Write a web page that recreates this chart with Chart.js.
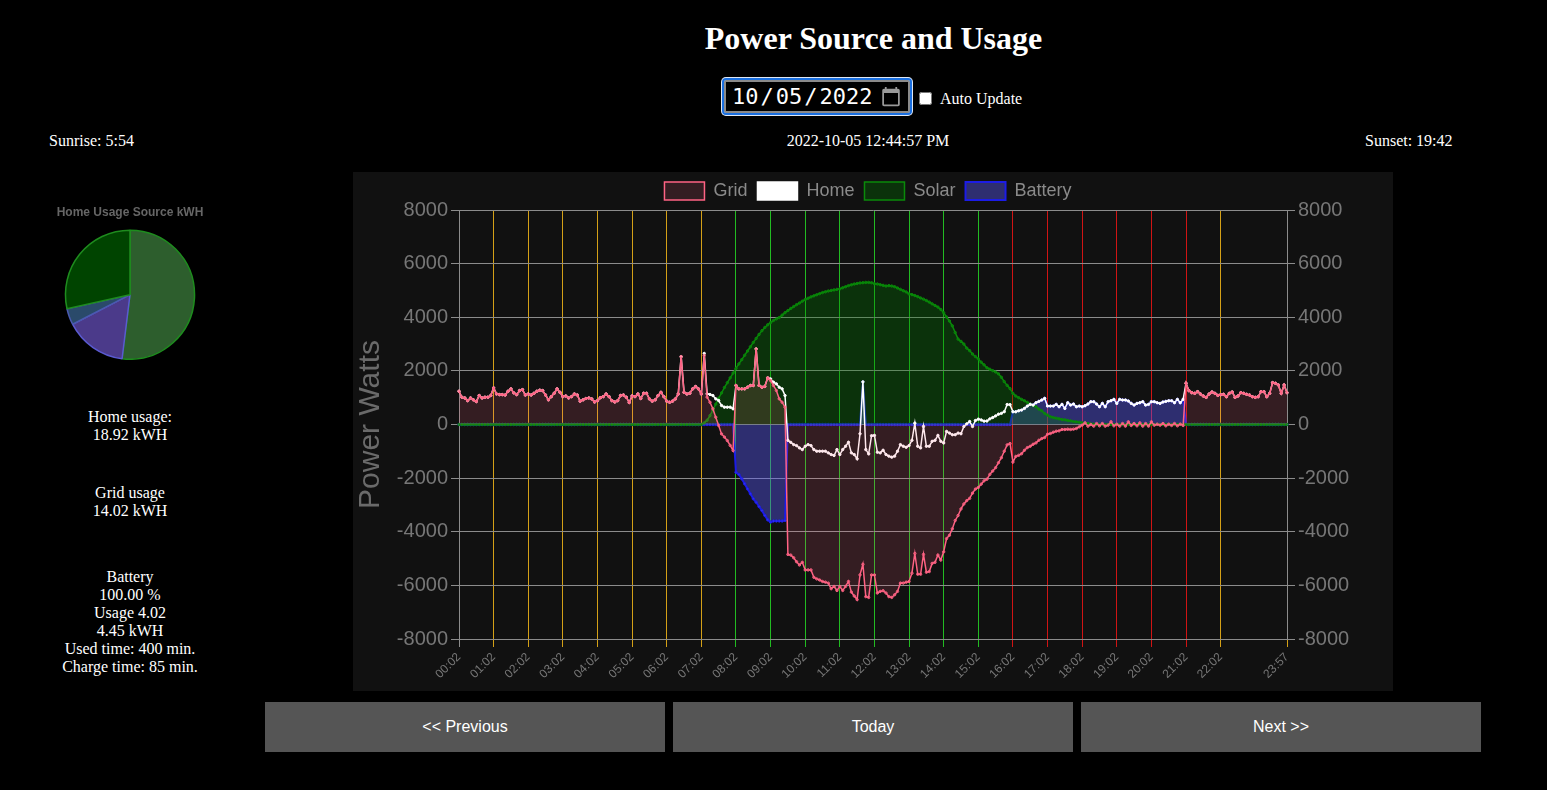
<!DOCTYPE html>
<html>
<head>
<meta charset="utf-8">
<title>Power Source and Usage</title>
<script src="https://cdn.jsdelivr.net/npm/chart.js@4.4.0/dist/chart.umd.min.js"></script>
<style>
  body {
    margin: 0;
    width: 1547px;
    height: 790px;
    position: relative;
    overflow: hidden;
    background: #000;
    color: #fff;
    font-family: "Liberation Serif", "Times New Roman", serif;
    font-size: 16px;
  }
  h1 {
    position: absolute;
    left: 200px;
    width: 1347px;
    top: 20px;
    margin: 0;
    text-align: center;
    font-size: 32px;
    line-height: 37px;
  }
  #day {
    position: absolute;
    left: 724px;
    top: 80px;
    width: 186px;
    height: 33px;
    box-sizing: border-box;
    margin: 0;
    padding: 0 4px 0 5px;
    background: #000;
    color: #fff;
    color-scheme: dark;
    border: 2px solid #8a8a8a;
    border-radius: 2px;
    outline: 2px solid #1a6fe0;
    box-shadow: 0 0 0 3px #dfe8f5;
    font-family: "DejaVu Sans Mono", monospace;
    font-size: 22px;
  }
  #day::-webkit-datetime-edit-text { padding: 0 1px; }
  #day::-webkit-calendar-picker-indicator { opacity: 0.6; }
  #auto {
    position: absolute;
    left: 919px;
    top: 92px;
    width: 13px;
    height: 13px;
    margin: 0;
  }
  .line { position: absolute; line-height: 18px; white-space: nowrap; }
  .side { position: absolute; left: 30px; width: 200px; text-align: center; line-height: 18px; }
  #chartBox {
    position: absolute;
    left: 353px;
    top: 172px;
    width: 1040px;
    height: 519px;
    background: #111;
  }
  #pieChart { position: absolute; left: 30px; top: 200px; }
  .btn {
    position: absolute;
    top: 702px;
    width: 400px;
    height: 50px;
    border: none;
    background: #555;
    color: #fff;
    font-family: "Liberation Sans", Arial, sans-serif;
    font-size: 16px;
  }
</style>
</head>
<body>
<h1>Power Source and Usage</h1>
<input id="day" type="date" value="2022-10-05">
<input id="auto" type="checkbox">
<div class="line" style="left:940px; top:90px;">Auto Update</div>

<div class="line" style="left:49px; top:132px;">Sunrise: 5:54</div>
<div class="line" style="left:668px; width:400px; text-align:center; top:132px;">2022-10-05 12:44:57 PM</div>
<div class="line" style="left:1365px; top:132px;">Sunset: 19:42</div>

<canvas id="pieChart" width="200" height="160"></canvas>

<div class="side" style="top:408px;">Home usage:<br>18.92 kWH</div>
<div class="side" style="top:484px;">Grid usage<br>14.02 kWH</div>
<div class="side" style="top:568px;">Battery<br>100.00 %<br>Usage 4.02<br>4.45 kWH<br>Used time: 400 min.<br>Charge time: 85 min.</div>

<div id="chartBox"><canvas id="powerChart"></canvas></div>

<button class="btn" style="left:265px;">&lt;&lt; Previous</button>
<button class="btn" style="left:673px;">Today</button>
<button class="btn" style="left:1081px;">Next &gt;&gt;</button>

<script>
// readings every 5 minutes, 00:02 .. 23:57 (12 values per row = one hour)
const gridWatts = [
  1240, 1017, 990, 890, 990, 920, 855, 1080, 990, 1017, 1017, 1080,
  1364, 1140, 1115, 1115, 1100, 1240, 1330, 1180, 1115, 1265, 1300, 1100,
  1140, 1100, 1165, 1240, 1280, 1265, 1100, 920, 1040, 1165, 1330, 1200,
  1040, 1065, 990, 1040, 1140, 1100, 870, 920, 970, 990, 955, 840,
  890, 1000, 1040, 1140, 1040, 890, 840, 890, 1080, 1100, 1017, 820,
  1065, 1040, 1140, 970, 1165, 1165, 955, 870, 920, 1080, 1200, 1040,
  870, 830, 870, 955, 1140, 2530, 1200, 1140, 1165, 1330, 1415, 1330,
  1140, 2573, 1020, 830, 585, 273, -37, -350, -470, -600, -780, -970,
  1455, 1330, 1330, 1330, 1390, 1455, 1455, 2820, 1455, 1390, 1420, 1740,
  1640, 1455, 1270, 957, 830, 646, -4846, -4870, -4970, -5117, -5240, -5140,
  -5424, -5424, -5424, -5700, -5760, -5800, -5855, -5880, -5916, -6125, -6040, -6190,
  -6040, -6190, -6040, -5855, -6250, -6396, -6530, -5610, -5215, -6420, -6450, -5610,
  -5610, -6285, -6225, -6200, -6285, -6420, -6450, -6350, -6225, -5916, -5916, -5880,
  -5855, -5545, -4810, -5585, -5585, -4846, -5510, -5485, -5180, -5140, -4870, -5055,
  -4750, -4255, -4130, -3890, -3580, -3395, -3150, -2965, -2840, -2755, -2560, -2410,
  -2350, -2225, -2100, -2040, -1860, -1735, -1610, -1425, -1240, -996, -760, -712,
  -1400, -1190, -1150, -1090, -962, -862, -812, -737, -687, -587, -525, -487,
  -362, -337, -287, -250, -237, -187, -187, -175, -187, -175, -150, -87,
  -25, 62, -62, 0, -62, 37, -50, 37, -62, -25, 100, -50,
  12, -62, 37, -62, 100, -37, 37, -50, 62, -62, 37, -62,
  100, -25, 12, -25, 37, -50, 12, -37, 37, -50, 12, -37,
  1537, 1262, 1187, 1162, 1225, 1137, 1062, 1012, 1137, 1212, 1162, 1087,
  1112, 1125, 1037, 1162, 1212, 1012, 1062, 1187, 1162, 1125, 1100, 1037,
  1012, 1037, 1225, 1225, 1037, 1162, 1562, 1537, 1475, 1162, 1475, 1187,
]

const homeWatts = [
  1240, 1017, 990, 890, 990, 920, 855, 1080, 990, 1017, 1017, 1080,
  1364, 1140, 1115, 1115, 1100, 1240, 1330, 1180, 1115, 1265, 1300, 1100,
  1140, 1100, 1165, 1240, 1280, 1265, 1100, 920, 1040, 1165, 1330, 1200,
  1040, 1065, 990, 1040, 1140, 1100, 870, 920, 970, 990, 955, 840,
  890, 1000, 1040, 1140, 1040, 890, 840, 890, 1080, 1100, 1017, 820,
  1065, 1040, 1140, 970, 1165, 1165, 955, 870, 920, 1080, 1200, 1040,
  870, 830, 870, 955, 1140, 2530, 1200, 1140, 1165, 1330, 1415, 1330,
  1140, 2650, 1143, 1120, 1080, 957, 895, 708, 646, 646, 646, 585,
  1455, 1330, 1330, 1330, 1390, 1455, 1455, 2820, 1455, 1390, 1420, 1740,
  1700, 1580, 1516, 1390, 1330, 1080, -590, -665, -750, -787, -873, -935,
  -812, -750, -787, -935, -996, -996, -996, -996, -1058, -1120, -1156, -935,
  -1120, -935, -812, -664, -1058, -1120, -1280, -345, 1590, -935, -1095, -418,
  -406, -1033, -1058, -960, -1120, -1180, -1218, -1180, -996, -750, -812, -849,
  -787, -590, 50, -812, -873, -74, -812, -812, -627, -590, -406, -627,
  -688, -258, -320, -381, -381, -320, -345, -74, 25, 110, -74, 148,
  200, 170, 125, 130, 210, 260, 320, 385, 415, 478, 745, 740,
  475, 475, 512, 537, 600, 687, 750, 725, 812, 862, 912, 975,
  687, 687, 687, 750, 662, 750, 600, 812, 725, 762, 662, 687,
  662, 700, 762, 850, 850, 762, 662, 787, 662, 850, 887, 937,
  787, 937, 912, 912, 875, 787, 725, 787, 812, 850, 725, 750,
  850, 850, 812, 787, 837, 862, 887, 887, 812, 937, 812, 937,
  1537, 1262, 1187, 1162, 1225, 1137, 1062, 1012, 1137, 1212, 1162, 1087,
  1112, 1125, 1037, 1162, 1212, 1012, 1062, 1187, 1162, 1125, 1100, 1037,
  1012, 1037, 1225, 1225, 1037, 1162, 1562, 1537, 1475, 1162, 1475, 1187,
]

const solarWatts = [
  0, 0, 0, 0, 0, 0, 0, 0, 0, 0, 0, 0,
  0, 0, 0, 0, 0, 0, 0, 0, 0, 0, 0, 0,
  0, 0, 0, 0, 0, 0, 0, 0, 0, 0, 0, 0,
  0, 0, 0, 0, 0, 0, 0, 0, 0, 0, 0, 0,
  0, 0, 0, 0, 0, 0, 0, 0, 0, 0, 0, 0,
  0, 0, 0, 0, 0, 0, 0, 0, 0, 0, 0, 0,
  0, 0, 0, 0, 0, 0, 0, 0, 0, 0, 0, 0,
  0, 60, 160, 330, 540, 760, 980, 1180, 1380, 1560, 1740, 1920,
  2090, 2260, 2420, 2580, 2740, 2900, 3060, 3210, 3360, 3500, 3620, 3720,
  3800, 3880, 3940, 3990, 4080, 4170, 4250, 4330, 4400, 4470, 4530, 4600,
  4660, 4710, 4760, 4800, 4840, 4880, 4920, 4950, 4980, 5000, 5020, 5040,
  5060, 5100, 5140, 5180, 5210, 5240, 5260, 5280, 5290, 5300, 5300, 5290,
  5250, 5240, 5215, 5190, 5165, 5180, 5165, 5140, 5090, 5040, 4990, 4945,
  4870, 4845, 4810, 4770, 4720, 4675, 4625, 4565, 4500, 4440, 4380, 4290,
  4170, 4010, 3860, 3680, 3430, 3185, 3100, 3000, 2850, 2755, 2630, 2535,
  2450, 2325, 2225, 2115, 2060, 2010, 1960, 1890, 1760, 1600, 1460, 1340,
  1162, 1062, 1000, 937, 887, 825, 762, 712, 662, 575, 512, 412,
  350, 287, 262, 237, 212, 187, 175, 150, 137, 112, 100, 87,
  62, 50, 37, 25, 12, 0, 0, 0, 0, 0, 0, 0,
  0, 0, 0, 0, 0, 0, 0, 0, 0, 0, 0, 0,
  0, 0, 0, 0, 0, 0, 0, 0, 0, 0, 0, 0,
  0, 0, 0, 0, 0, 0, 0, 0, 0, 0, 0, 0,
  0, 0, 0, 0, 0, 0, 0, 0, 0, 0, 0, 0,
  0, 0, 0, 0, 0, 0, 0, 0, 0, 0, 0, 0,
]

const batteryWatts = [
  0, 0, 0, 0, 0, 0, 0, 0, 0, 0, 0, 0,
  0, 0, 0, 0, 0, 0, 0, 0, 0, 0, 0, 0,
  0, 0, 0, 0, 0, 0, 0, 0, 0, 0, 0, 0,
  0, 0, 0, 0, 0, 0, 0, 0, 0, 0, 0, 0,
  0, 0, 0, 0, 0, 0, 0, 0, 0, 0, 0, 0,
  0, 0, 0, 0, 0, 0, 0, 0, 0, 0, 0, 0,
  0, 0, 0, 0, 0, 0, 0, 0, 0, 0, 0, 0,
  0, 0, 0, 0, 0, 0, 0, 0, 0, 0, 0, 0,
  -1780, -1865, -2025, -2210, -2400, -2585, -2770, -2900, -3060, -3210, -3390, -3555,
  -3640, -3600, -3600, -3600, -3600, -3580, 0, 0, 0, 0, 0, 0,
  0, 0, 0, 0, 0, 0, 0, 0, 0, 0, 0, 0,
  0, 0, 0, 0, 0, 0, 0, 0, 1590, 0, 0, 0,
  0, 0, 0, 0, 0, 0, 0, 0, 0, 0, 0, 0,
  0, 0, 0, 0, 0, 0, 0, 0, 0, 0, 0, 0,
  0, 0, 0, 0, 0, 0, 0, 0, 0, 0, 0, 0,
  0, 0, 0, 0, 0, 0, 0, 0, 0, 0, 0, 0,
  475, 475, 512, 537, 600, 687, 750, 725, 812, 862, 912, 975,
  687, 687, 687, 750, 662, 750, 600, 812, 725, 762, 662, 687,
  662, 700, 762, 850, 850, 762, 662, 787, 662, 850, 887, 937,
  787, 937, 912, 912, 875, 787, 725, 787, 812, 850, 725, 750,
  850, 850, 812, 787, 837, 862, 887, 887, 812, 937, 812, 937,
  0, 0, 0, 0, 0, 0, 0, 0, 0, 0, 0, 0,
  0, 0, 0, 0, 0, 0, 0, 0, 0, 0, 0, 0,
  0, 0, 0, 0, 0, 0, 0, 0, 0, 0, 0, 0,
]

const yTicks = [-8000, -6000, -4000, -2000, 0, 2000, 4000, 6000, 8000]

const pieLabels = ["Solar", "Battery", "Battery (grid)", "Grid"]
const pieKwh = [9.83, 2.93, 0.77, 5.39]

// x categories: one reading every 5 minutes starting at 00:02
const timeLabels = []
for (let m = 2; m < 24 * 60; m += 5) {
  const hh = String(Math.floor(m / 60)).padStart(2, "0")
  const mm = String(m % 60).padStart(2, "0")
  timeLabels.push(hh + ":" + mm)
}

const LAST = timeLabels.length - 1
const axisGray = "#8c8c8c"
const tickGray = "#777"

function isHourTick(index) {
  return (index % 12 === 0 && index <= 264) || index === LAST
}

function hourLineColor(ctx) {
  const i = ctx.index
  if (!isHourTick(i)) return "rgba(0,0,0,0)"
  if (i === 0) return axisGray
  const h = Math.floor(i / 12)
  if (h <= 7 || h >= 22) return "#d4a017"
  if (h <= 15) return "#22bb22"
  return "#d01414"
}

function createPowerChart() {
  const ctx = document.getElementById("powerChart")

  new Chart(ctx, {
    type: "line",
    data: {
      labels: timeLabels,
      datasets: [
        {
          label: "Grid",
          data: gridWatts,
          borderColor: "#ff6384",
          backgroundColor: "rgba(255, 99, 132, 0.15)",
          borderWidth: 1.5,
          pointRadius: 1.2,
          pointBorderWidth: 1,
          fill: "origin",
          tension: 0,
        },
        {
          label: "Home",
          data: homeWatts,
          borderColor: "#ffffff",
          backgroundColor: "#ffffff",
          borderWidth: 1.5,
          pointRadius: 1.2,
          pointBorderWidth: 1,
          fill: false,
          tension: 0,
        },
        {
          label: "Solar",
          data: solarWatts,
          borderColor: "#0a8a0a",
          backgroundColor: "rgba(0, 128, 0, 0.3)",
          borderWidth: 1.5,
          pointRadius: 1.2,
          pointBorderWidth: 1,
          fill: "origin",
          tension: 0,
        },
        {
          label: "Battery",
          data: batteryWatts,
          borderColor: "#1c1ce6",
          backgroundColor: "rgba(90, 90, 255, 0.4)",
          borderWidth: 2,
          pointRadius: 1.2,
          pointBorderWidth: 1,
          fill: "origin",
          tension: 0,
        },
      ],
    },
    options: {
      responsive: true,
      maintainAspectRatio: false,
      animation: false,
      layout: { padding: { right: 10 } },
      plugins: {
        legend: {
          labels: {
            color: "#8a8a8a",
            font: { size: 18 },
            boxWidth: 40,
            boxHeight: 18,
          },
        },
        tooltip: { enabled: false },
      },
      scales: {
        x: {
          afterFit: (scale) => {
            scale.height = 52
          },
          ticks: {
            autoSkip: false,
            minRotation: 45,
            maxRotation: 45,
            color: tickGray,
            font: { size: 12 },
            callback: function (value, index) {
              return isHourTick(index) ? this.getLabelForValue(value) : ""
            },
          },
          grid: { color: hourLineColor },
          border: { color: axisGray },
        },
        y: {
          position: "left",
          min: yTicks[0],
          max: yTicks[yTicks.length - 1],
          afterFit: (scale) => {
            scale.width = 106
          },
          afterBuildTicks: (scale) => {
            scale.ticks = yTicks.map((v) => ({ value: v }))
          },
          ticks: {
            color: tickGray,
            font: { size: 20 },
            callback: (value) => String(value),
          },
          grid: { color: axisGray },
          border: { color: axisGray },
          title: {
            display: true,
            text: "Power Watts",
            color: "#6a6a6a",
            font: { size: 30 },
            padding: { top: 0, bottom: 4 },
          },
        },
        y1: {
          position: "right",
          min: yTicks[0],
          max: yTicks[yTicks.length - 1],
          afterFit: (scale) => {
            scale.width = 96
          },
          afterBuildTicks: (scale) => {
            scale.ticks = yTicks.map((v) => ({ value: v }))
          },
          ticks: {
            color: tickGray,
            font: { size: 20 },
            callback: (value) => String(value),
          },
          grid: { drawOnChartArea: false, color: axisGray },
          border: { color: axisGray },
        },
      },
    },
  })
}

function createSourcePie() {
  const ctx = document.getElementById("pieChart")

  new Chart(ctx, {
    type: "pie",
    data: {
      labels: pieLabels,
      datasets: [
        {
          data: pieKwh,
          backgroundColor: ["#2d5e2d", "#4b3a8a", "#2a4a6a", "#004400"],
          borderColor: ["#1e8c1e", "#5a5ad0", "#4a5ab0", "#1e8c1e"],
          borderWidth: 1.5,
        },
      ],
    },
    options: {
      responsive: false,
      animation: false,
      plugins: {
        legend: { display: false },
        tooltip: { enabled: false },
        title: {
          display: true,
          text: "Home Usage Source kWH",
          color: "#666",
          font: { size: 12, weight: "bold" },
          padding: { top: 5, bottom: 10 },
        },
      },
    },
  })
}

createPowerChart()
createSourcePie()
</script>
</body>
</html>
